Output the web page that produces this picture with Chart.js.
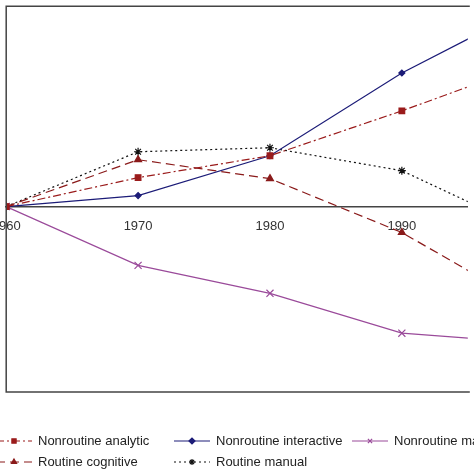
<!DOCTYPE html>
<html>
<head>
<meta charset="utf-8">
<script src="https://cdn.jsdelivr.net/npm/chart.js@4"></script>
<style>
  html, body { margin: 0; padding: 0; background: #fff; }
  #wrap { width: 474px; height: 474px; }
</style>
</head>
<body>
<div id="wrap"><canvas id="chart"></canvas></div>
<script>
// years, last one lies beyond the cropped right edge
const years = [1960, 1970, 1980, 1990, 2000];
const tickYears = [1960, 1970, 1980, 1990];

const nonroutineAnalytic = [0, 29, 51, 96, 144];
const nonroutineInteractive = [0, 11, 51, 134, 202];
const nonroutineManual = [0, -59, -87, -127, -137];
const routineCognitive = [0, 47, 28, -26, -102];
const routineManual = [0, 55, 59, 36, -26];

function series(label, values, color, style, dash, radius) {
    return {
        label: label,
        data: years.map((x, i) => ({ x: x, y: values[i] })),
        borderColor: color,
        backgroundColor: color,
        borderWidth: 1.2,
        borderDash: dash,
        pointStyle: style,
        pointRadius: radius,
        pointBorderWidth: 1.2,
        tension: 0
    };
}

const datasets = [
    series('Nonroutine analytic', nonroutineAnalytic, '#9a1b1b', 'rect', [8, 3, 2, 3], 4),
    series('Nonroutine interactive', nonroutineInteractive, '#1c1c78', 'rectRot', [], 3),
    series('Nonroutine manual', nonroutineManual, '#9a4a9a', 'crossRot', [], 5),
    series('Routine cognitive', routineCognitive, '#8a1a1a', 'triangle', [9, 5], 4),
    series('Routine manual', routineManual, '#111111', 'star', [2, 3], 4)
];

// frame + hand placed legend (reference is cropped on left and right)
const framePlugin = {
    id: 'frame',
    afterDraw(chart) {
        const ctx = chart.ctx;
        const a = chart.chartArea;
        ctx.save();
        ctx.strokeStyle = '#444';
        ctx.lineWidth = 1.5;
        ctx.beginPath();
        ctx.moveTo(a.right + 2, a.top);
        ctx.lineTo(a.left, a.top);
        ctx.lineTo(a.left, a.bottom);
        ctx.lineTo(a.right + 2, a.bottom);
        ctx.stroke();

        const items = [
            [0, -4, 441], [1, 174, 441], [2, 352, 441],
            [3, -4, 462], [4, 174, 462]
        ];
        ctx.font = '13px "Liberation Sans", Arial, sans-serif';
        ctx.textBaseline = 'middle';
        items.forEach(([i, x, y]) => {
            const d = datasets[i];
            ctx.strokeStyle = d.borderColor;
            ctx.lineWidth = 1.2;
            ctx.setLineDash(d.borderDash);
            ctx.beginPath();
            ctx.moveTo(x, y);
            ctx.lineTo(x + 36, y);
            ctx.stroke();
            ctx.setLineDash([]);
            ctx.fillStyle = d.borderColor;
            Chart.helpers.drawPoint(ctx, {
                pointStyle: d.pointStyle, radius: 3, borderWidth: 1.2
            }, x + 18, y);
            ctx.fillStyle = '#222';
            ctx.fillText(d.label, x + 42, y);
        });
        ctx.restore();
    }
};

new Chart(document.getElementById('chart'), {
    type: 'line',
    data: { datasets: datasets },
    options: {
        responsive: true,
        maintainAspectRatio: false,
        animation: false,
        layout: { padding: { top: 5, bottom: 82, left: 1, right: 0 } },
        plugins: { legend: { display: false }, tooltip: { enabled: false } },
        scales: {
            x: {
                type: 'linear',
                position: { y: 0 },
                min: 1960,
                max: 1995,
                afterBuildTicks(scale) {
                    scale.ticks = tickYears.map(v => ({ value: v }));
                },
                afterFit(scale) {
                    scale.paddingLeft = 0;
                    scale.paddingRight = 0;
                },
                grid: { display: false },
                border: { display: true, color: '#444', width: 1.5 },
                ticks: {
                    autoSkip: false,
                    color: '#333',
                    padding: 4,
                    callback: v => String(v),
                    font: { size: 13, family: '"Liberation Sans", Arial, sans-serif' }
                }
            },
            y: {
                display: false,
                min: -186,
                max: 201
            }
        }
    },
    plugins: [framePlugin]
});
</script>
</body>
</html>
